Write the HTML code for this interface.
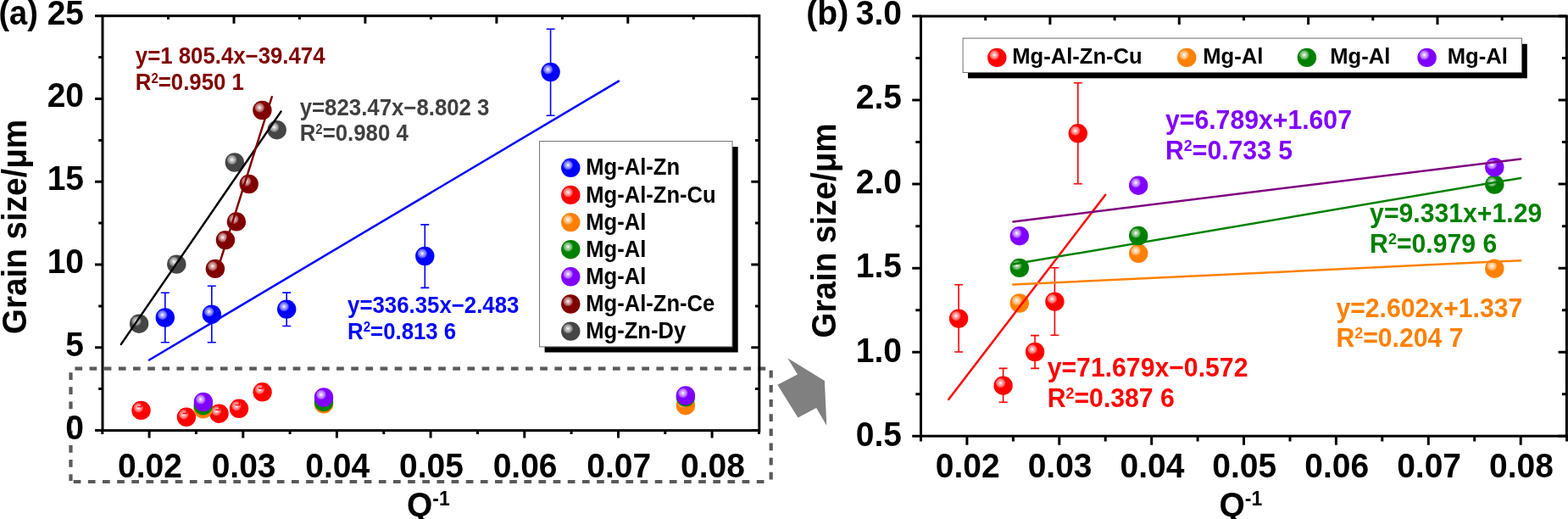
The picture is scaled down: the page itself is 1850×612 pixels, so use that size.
<!DOCTYPE html>
<html><head><meta charset="utf-8"><title>Grain size vs Q-1</title>
<style>html,body{margin:0;padding:0;background:#fff;width:1850px;height:612px;overflow:hidden}svg{display:block}</style>
</head><body>
<svg width="1850" height="612" viewBox="0 0 1850 612" font-family="'Liberation Sans', Arial, sans-serif" font-weight="bold">
<defs>
<radialGradient id="g_blue" cx="0.36" cy="0.36" fx="0.36" fy="0.36" r="0.27"><stop offset="0" stop-color="#ffffff"/><stop offset="0.1" stop-color="#ededff"/><stop offset="0.3" stop-color="#b8b8ff"/><stop offset="0.6" stop-color="#8585ff"/><stop offset="0.85" stop-color="#4c4cff"/><stop offset="1" stop-color="#0000ff"/></radialGradient>
<radialGradient id="g_red" cx="0.36" cy="0.36" fx="0.36" fy="0.36" r="0.27"><stop offset="0" stop-color="#ffffff"/><stop offset="0.1" stop-color="#ffeded"/><stop offset="0.3" stop-color="#ffb8b8"/><stop offset="0.6" stop-color="#ff8585"/><stop offset="0.85" stop-color="#ff4c4c"/><stop offset="1" stop-color="#ff0000"/></radialGradient>
<radialGradient id="g_orange" cx="0.36" cy="0.36" fx="0.36" fy="0.36" r="0.27"><stop offset="0" stop-color="#ffffff"/><stop offset="0.1" stop-color="#fff6ed"/><stop offset="0.3" stop-color="#ffdbb8"/><stop offset="0.6" stop-color="#ffc285"/><stop offset="0.85" stop-color="#ffa64c"/><stop offset="1" stop-color="#ff8000"/></radialGradient>
<radialGradient id="g_green" cx="0.36" cy="0.36" fx="0.36" fy="0.36" r="0.27"><stop offset="0" stop-color="#ffffff"/><stop offset="0.1" stop-color="#edf6ed"/><stop offset="0.3" stop-color="#b8dbb8"/><stop offset="0.6" stop-color="#85c285"/><stop offset="0.85" stop-color="#4ca64c"/><stop offset="1" stop-color="#008000"/></radialGradient>
<radialGradient id="g_purple" cx="0.36" cy="0.36" fx="0.36" fy="0.36" r="0.27"><stop offset="0" stop-color="#ffffff"/><stop offset="0.1" stop-color="#f6edff"/><stop offset="0.3" stop-color="#dbb8ff"/><stop offset="0.6" stop-color="#c285ff"/><stop offset="0.85" stop-color="#a64cff"/><stop offset="1" stop-color="#8000ff"/></radialGradient>
<radialGradient id="g_dred" cx="0.36" cy="0.36" fx="0.36" fy="0.36" r="0.27"><stop offset="0" stop-color="#ffffff"/><stop offset="0.1" stop-color="#f6eded"/><stop offset="0.3" stop-color="#dbb8b8"/><stop offset="0.6" stop-color="#c28585"/><stop offset="0.85" stop-color="#a64c4c"/><stop offset="1" stop-color="#800000"/></radialGradient>
<radialGradient id="g_gray" cx="0.36" cy="0.36" fx="0.36" fy="0.36" r="0.27"><stop offset="0" stop-color="#ffffff"/><stop offset="0.1" stop-color="#f2f2f2"/><stop offset="0.3" stop-color="#cbcbcb"/><stop offset="0.6" stop-color="#a6a6a6"/><stop offset="0.85" stop-color="#7d7d7d"/><stop offset="1" stop-color="#454545"/></radialGradient>
</defs>
<path d="M88.4 434.6H905" fill="none" stroke="#5a5a5a" stroke-width="4.2" stroke-dasharray="8.7 8.45"/>
<path d="M86.7 568H905" fill="none" stroke="#5a5a5a" stroke-width="4.2" stroke-dasharray="8.7 8.45"/>
<path d="M83.5 439.2V567" fill="none" stroke="#5a5a5a" stroke-width="4.2" stroke-dasharray="8.7 8.45"/>
<path d="M909.7 436.8V567" fill="none" stroke="#5a5a5a" stroke-width="4.2" stroke-dasharray="8.7 8.45"/>
<rect x="642.6" y="173.1" width="228.1" height="242.4" fill="#000"/>
<rect x="636.6" y="166.6" width="227.4" height="242.3" fill="#fff" stroke="#707070" stroke-width="1"/>
<circle cx="673.3" cy="197.8" r="11.2" fill="url(#g_blue)"/>
<text transform="translate(691.2 206.4) scale(1 1.07)" font-size="25.6" fill="#000" text-anchor="start" >Mg-Al-Zn</text>
<circle cx="673.3" cy="229.9" r="11.2" fill="url(#g_red)"/>
<text transform="translate(691.2 238.5) scale(1 1.07)" font-size="25.6" fill="#000" text-anchor="start" >Mg-Al-Zn-Cu</text>
<circle cx="673.3" cy="262.1" r="11.2" fill="url(#g_orange)"/>
<text transform="translate(691.2 270.7) scale(1 1.07)" font-size="25.6" fill="#000" text-anchor="start" >Mg-Al</text>
<circle cx="673.3" cy="294.2" r="11.2" fill="url(#g_green)"/>
<text transform="translate(691.2 302.8) scale(1 1.07)" font-size="25.6" fill="#000" text-anchor="start" >Mg-Al</text>
<circle cx="673.3" cy="326.3" r="11.2" fill="url(#g_purple)"/>
<text transform="translate(691.2 334.9) scale(1 1.07)" font-size="25.6" fill="#000" text-anchor="start" >Mg-Al</text>
<circle cx="673.3" cy="358.5" r="11.2" fill="url(#g_dred)"/>
<text transform="translate(691.2 367.1) scale(1 1.07)" font-size="25.6" fill="#000" text-anchor="start" >Mg-Al-Zn-Ce</text>
<circle cx="673.3" cy="390.6" r="11.2" fill="url(#g_gray)"/>
<text transform="translate(691.2 399.2) scale(1 1.07)" font-size="25.6" fill="#000" text-anchor="start" >Mg-Zn-Dy</text>
<path d="M194.8 345.2V403.7M189.8 345.2H199.8M189.8 403.7H199.8" stroke="#0000ff" stroke-width="1.6" fill="none"/>
<path d="M249.8 337.2V403.7M244.8 337.2H254.8M244.8 403.7H254.8" stroke="#0000ff" stroke-width="1.6" fill="none"/>
<path d="M338.2 345.1V384.5M333.2 345.1H343.2M333.2 384.5H343.2" stroke="#0000ff" stroke-width="1.6" fill="none"/>
<path d="M501.3 264.9V339.4M496.3 264.9H506.3M496.3 339.4H506.3" stroke="#0000ff" stroke-width="1.6" fill="none"/>
<path d="M649.6 34.2V136.2M644.6 34.2H654.6M644.6 136.2H654.6" stroke="#0000ff" stroke-width="1.6" fill="none"/>
<circle cx="194.8" cy="374.5" r="11.2" fill="url(#g_blue)"/>
<circle cx="249.8" cy="370.7" r="11.2" fill="url(#g_blue)"/>
<circle cx="338.2" cy="364.6" r="11.2" fill="url(#g_blue)"/>
<circle cx="501.3" cy="302.0" r="11.2" fill="url(#g_blue)"/>
<circle cx="649.6" cy="85.0" r="11.2" fill="url(#g_blue)"/>
<circle cx="164.1" cy="381.7" r="11.2" fill="url(#g_gray)"/>
<circle cx="208.3" cy="311.6" r="11.2" fill="url(#g_gray)"/>
<circle cx="276.8" cy="191.5" r="11.2" fill="url(#g_gray)"/>
<circle cx="326.7" cy="153.2" r="11.2" fill="url(#g_gray)"/>
<circle cx="253.9" cy="316.9" r="11.2" fill="url(#g_dred)"/>
<circle cx="265.9" cy="283.1" r="11.2" fill="url(#g_dred)"/>
<circle cx="278.9" cy="261.4" r="11.2" fill="url(#g_dred)"/>
<circle cx="293.7" cy="217.0" r="11.2" fill="url(#g_dred)"/>
<circle cx="309.4" cy="130.0" r="11.2" fill="url(#g_dred)"/>
<circle cx="166.5" cy="483.9" r="11.2" fill="url(#g_red)"/>
<circle cx="219.9" cy="491.8" r="11.2" fill="url(#g_red)"/>
<circle cx="258.5" cy="487.7" r="11.2" fill="url(#g_red)"/>
<circle cx="282.0" cy="481.8" r="11.2" fill="url(#g_red)"/>
<circle cx="309.6" cy="462.3" r="11.2" fill="url(#g_red)"/>
<path d="M161.9 479.6H167.0V475.4" stroke="#ff0000" stroke-width="1.3" fill="none"/>
<path d="M215.3 487.5H220.4V483.3" stroke="#ff0000" stroke-width="1.3" fill="none"/>
<path d="M253.9 483.4H259.0V479.2" stroke="#ff0000" stroke-width="1.3" fill="none"/>
<path d="M277.4 477.5H282.5V473.3" stroke="#ff0000" stroke-width="1.3" fill="none"/>
<path d="M305.0 458.0H310.1V453.8" stroke="#ff0000" stroke-width="1.3" fill="none"/>
<circle cx="239.7" cy="482.3" r="11.2" fill="url(#g_orange)"/>
<circle cx="382.0" cy="476.4" r="11.2" fill="url(#g_orange)"/>
<circle cx="808.9" cy="478.2" r="11.2" fill="url(#g_orange)"/>
<circle cx="239.7" cy="478.2" r="11.2" fill="url(#g_green)"/>
<circle cx="382.0" cy="474.1" r="11.2" fill="url(#g_green)"/>
<circle cx="808.9" cy="468.4" r="11.2" fill="url(#g_green)"/>
<circle cx="239.9" cy="474.0" r="11.2" fill="url(#g_purple)"/>
<circle cx="382.0" cy="468.5" r="11.2" fill="url(#g_purple)"/>
<circle cx="808.9" cy="466.5" r="11.2" fill="url(#g_purple)"/>
<line x1="176.0" y1="424.5" x2="730.0" y2="95.6" stroke="#0000ff" stroke-width="2.5" stroke-linecap="round"/>
<line x1="142.9" y1="405.9" x2="331.5" y2="131.6" stroke="#000000" stroke-width="2.5" stroke-linecap="round"/>
<line x1="255.0" y1="323.4" x2="320.8" y2="114.2" stroke="#800000" stroke-width="2.5" stroke-linecap="round"/>
<path d="M112.0 507.5H121.0M886.3 507.5H895.8M112.0 409.8H121.0M886.3 409.8H895.8M112.0 312.0H121.0M886.3 312.0H895.8M112.0 214.2H121.0M886.3 214.2H895.8M112.0 116.5H121.0M886.3 116.5H895.8M112.0 18.8H121.0M886.3 18.8H895.8M116.2 458.6H121.0M891.0 458.6H895.8M116.2 360.9H121.0M891.0 360.9H895.8M116.2 263.1H121.0M891.0 263.1H895.8M116.2 165.4H121.0M891.0 165.4H895.8M116.2 67.6H121.0M891.0 67.6H895.8M176.1 507.6V516.6M286.8 507.6V516.6M397.4 507.6V516.6M508.1 507.6V516.6M618.8 507.6V516.6M729.5 507.6V516.6M840.1 507.6V516.6M120.8 507.6V512.1M231.4 507.6V512.1M342.1 507.6V512.1M452.8 507.6V512.1M563.5 507.6V512.1M674.1 507.6V512.1M784.8 507.6V512.1M895.5 507.6V512.1M198.5 18.7V23.0M276.0 18.7V27.8M353.4 18.7V23.0M430.9 18.7V27.8M508.4 18.7V23.0M585.9 18.7V27.8M663.4 18.7V23.0M740.8 18.7V27.8M818.3 18.7V23.0" stroke="#000" stroke-width="3" fill="none"/>
<rect x="121.0" y="18.7" width="774.8" height="488.9" fill="none" stroke="#000" stroke-width="3"/>
<text transform="translate(99.0 517.8) scale(1 1.033)" font-size="39" fill="#000" text-anchor="end" >0</text>
<text transform="translate(99.0 419.7) scale(1 1.033)" font-size="39" fill="#000" text-anchor="end" >5</text>
<text transform="translate(99.0 321.8) scale(1 1.033)" font-size="39" fill="#000" text-anchor="end" >10</text>
<text transform="translate(99.0 223.8) scale(1 1.033)" font-size="39" fill="#000" text-anchor="end" >15</text>
<text transform="translate(99.0 125.8) scale(1 1.033)" font-size="39" fill="#000" text-anchor="end" >20</text>
<text transform="translate(99.0 28.6) scale(1 1.033)" font-size="39" fill="#000" text-anchor="end" >25</text>
<text transform="translate(176.9 563.0) scale(1 1.033)" font-size="39" fill="#000" text-anchor="middle" >0.02</text>
<text transform="translate(287.6 563.0) scale(1 1.033)" font-size="39" fill="#000" text-anchor="middle" >0.03</text>
<text transform="translate(398.2 563.0) scale(1 1.033)" font-size="39" fill="#000" text-anchor="middle" >0.04</text>
<text transform="translate(508.9 563.0) scale(1 1.033)" font-size="39" fill="#000" text-anchor="middle" >0.05</text>
<text transform="translate(619.6 563.0) scale(1 1.033)" font-size="39" fill="#000" text-anchor="middle" >0.06</text>
<text transform="translate(730.3 563.0) scale(1 1.033)" font-size="39" fill="#000" text-anchor="middle" >0.07</text>
<text transform="translate(840.9 563.0) scale(1 1.033)" font-size="39" fill="#000" text-anchor="middle" >0.08</text>
<text transform="translate(159.8 75.0) scale(1 1.04)" font-size="25.8" fill="#800000" text-anchor="start" >y=1 805.4x−39.474</text>
<text transform="translate(159.8 105.8) scale(1 1.04)" font-size="25.8" fill="#800000" text-anchor="start" >R<tspan font-size="15" dy="-7.8">2</tspan><tspan dy="7.8">=0.950 1</tspan></text>
<text transform="translate(353.7 135.8) scale(1 1.04)" font-size="25.8" fill="#404040" text-anchor="start" >y=823.47x−8.802 3</text>
<text transform="translate(353.7 166.4) scale(1 1.04)" font-size="25.8" fill="#404040" text-anchor="start" >R<tspan font-size="15" dy="-7.8">2</tspan><tspan dy="7.8">=0.980 4</tspan></text>
<text transform="translate(410.1 368.9) scale(1 1.04)" font-size="25.8" fill="#0000ff" text-anchor="start" >y=336.35x−2.483</text>
<text transform="translate(410.1 399.5) scale(1 1.04)" font-size="25.8" fill="#0000ff" text-anchor="start" >R<tspan font-size="15" dy="-7.8">2</tspan><tspan dy="7.8">=0.813 6</tspan></text>
<text transform="translate(-1.6 28.6) scale(0.951 1)" x="0" y="0" font-size="40">(a)</text>
<text transform="translate(30.8 267.4) rotate(-90) scale(1 1.075)" x="0" y="0" font-size="38.6" text-anchor="middle">Grain size/μm</text>
<text transform="translate(480.0 609.0) scale(1 1.04)" font-size="39">Q<tspan font-size="23" dy="-12.6">-1</tspan></text>
<path d="M929.3 422.2L972.9 448.9L975.3 501.8L963.1 481.0L941.5 492.4L917.3 453.8L941.0 441.5Z" fill="#808080"/>
<rect x="1142.0" y="51.8" width="659.8" height="40.5" fill="#000"/>
<rect x="1136.1" y="45.1" width="659.4" height="40.4" fill="#fff" stroke="#707070" stroke-width="1"/>
<circle cx="1176.3" cy="67.9" r="11.2" fill="url(#g_red)"/>
<text transform="translate(1194.2 75.2) scale(1 1.04)" font-size="25.6" fill="#000" text-anchor="start" >Mg-Al-Zn-Cu</text>
<circle cx="1400.2" cy="67.9" r="11.2" fill="url(#g_orange)"/>
<text transform="translate(1419.3 75.2) scale(1 1.04)" font-size="25.6" fill="#000" text-anchor="start" >Mg-Al</text>
<circle cx="1541.9" cy="67.9" r="11.2" fill="url(#g_green)"/>
<text transform="translate(1569.3 75.2) scale(1 1.04)" font-size="25.6" fill="#000" text-anchor="start" >Mg-Al</text>
<circle cx="1683.6" cy="67.9" r="11.2" fill="url(#g_purple)"/>
<text transform="translate(1707.7 75.2) scale(1 1.04)" font-size="25.6" fill="#000" text-anchor="start" >Mg-Al</text>
<path d="M1131.1 335.8V415.0M1126.1 335.8H1136.1M1126.1 415.0H1136.1" stroke="#ff0000" stroke-width="1.6" fill="none"/>
<path d="M1183.6 434.4V474.2M1178.6 434.4H1188.6M1178.6 474.2H1188.6" stroke="#ff0000" stroke-width="1.6" fill="none"/>
<path d="M1221.1 395.6V434.4M1216.1 395.6H1226.1M1216.1 434.4H1226.1" stroke="#ff0000" stroke-width="1.6" fill="none"/>
<path d="M1244.4 315.7V395.3M1239.4 315.7H1249.4M1239.4 395.3H1249.4" stroke="#ff0000" stroke-width="1.6" fill="none"/>
<path d="M1271.8 97.8V216.7M1266.8 97.8H1276.8M1266.8 216.7H1276.8" stroke="#ff0000" stroke-width="1.6" fill="none"/>
<circle cx="1131.1" cy="375.6" r="11.2" fill="url(#g_red)"/>
<circle cx="1183.6" cy="454.7" r="11.2" fill="url(#g_red)"/>
<circle cx="1221.1" cy="415.0" r="11.2" fill="url(#g_red)"/>
<circle cx="1244.4" cy="355.6" r="11.2" fill="url(#g_red)"/>
<circle cx="1271.8" cy="157.3" r="11.2" fill="url(#g_red)"/>
<circle cx="1202.8" cy="357.5" r="11.2" fill="url(#g_orange)"/>
<circle cx="1343.2" cy="298.8" r="11.2" fill="url(#g_orange)"/>
<circle cx="1763.3" cy="316.7" r="11.2" fill="url(#g_orange)"/>
<circle cx="1202.8" cy="315.9" r="11.2" fill="url(#g_green)"/>
<circle cx="1343.2" cy="278.0" r="11.2" fill="url(#g_green)"/>
<circle cx="1763.3" cy="217.6" r="11.2" fill="url(#g_green)"/>
<circle cx="1202.8" cy="278.2" r="11.2" fill="url(#g_purple)"/>
<circle cx="1343.2" cy="218.7" r="11.2" fill="url(#g_purple)"/>
<circle cx="1763.3" cy="197.2" r="11.2" fill="url(#g_purple)"/>
<line x1="1119.2" y1="471.0" x2="1304.2" y2="229.7" stroke="#ff0000" stroke-width="2.5" stroke-linecap="round"/>
<line x1="1195.4" y1="335.6" x2="1794.2" y2="307.2" stroke="#ff8000" stroke-width="2.5" stroke-linecap="round"/>
<line x1="1195.4" y1="311.6" x2="1794.2" y2="209.9" stroke="#008000" stroke-width="2.5" stroke-linecap="round"/>
<line x1="1195.4" y1="261.4" x2="1794.2" y2="187.4" stroke="#800080" stroke-width="2.5" stroke-linecap="round"/>
<path d="M1076.2 514.2H1086.5M1838.6 514.2H1848.4M1076.2 415.2H1086.5M1838.6 415.2H1848.4M1076.2 316.2H1086.5M1838.6 316.2H1848.4M1076.2 217.1H1086.5M1838.6 217.1H1848.4M1076.2 118.1H1086.5M1838.6 118.1H1848.4M1076.2 19.1H1086.5M1838.6 19.1H1848.4M1080.3 464.7H1086.5M1842.9 464.7H1848.4M1080.3 365.7H1086.5M1842.9 365.7H1848.4M1080.3 266.7H1086.5M1842.9 266.7H1848.4M1080.3 167.6H1086.5M1842.9 167.6H1848.4M1080.3 68.6H1086.5M1842.9 68.6H1848.4M1140.9 514.2V524.7M1249.8 514.2V524.7M1358.7 514.2V524.7M1467.5 514.2V524.7M1576.4 514.2V524.7M1685.3 514.2V524.7M1794.2 514.2V524.7M1086.5 514.2V520.4M1195.4 514.2V520.4M1304.2 514.2V520.4M1413.1 514.2V520.4M1522.0 514.2V520.4M1630.8 514.2V520.4M1739.7 514.2V520.4M1848.6 514.2V520.4M1162.7 19.1V24.3M1238.9 19.1V29.0M1315.1 19.1V24.3M1391.3 19.1V29.0M1467.5 19.1V24.3M1543.6 19.1V29.0M1619.8 19.1V24.3M1696.0 19.1V29.0M1772.2 19.1V24.3" stroke="#000" stroke-width="3" fill="none"/>
<rect x="1086.5" y="19.1" width="761.9" height="495.1" fill="none" stroke="#000" stroke-width="3"/>
<text transform="translate(1064.0 525.9) scale(1 1.033)" font-size="39" fill="#000" text-anchor="end" >0.5</text>
<text transform="translate(1064.0 426.5) scale(1 1.033)" font-size="39" fill="#000" text-anchor="end" >1.0</text>
<text transform="translate(1064.0 326.8) scale(1 1.033)" font-size="39" fill="#000" text-anchor="end" >1.5</text>
<text transform="translate(1064.0 227.7) scale(1 1.033)" font-size="39" fill="#000" text-anchor="end" >2.0</text>
<text transform="translate(1064.0 127.9) scale(1 1.033)" font-size="39" fill="#000" text-anchor="end" >2.5</text>
<text transform="translate(1064.0 28.8) scale(1 1.033)" font-size="39" fill="#000" text-anchor="end" >3.0</text>
<text transform="translate(1141.7 563.3) scale(1 1.033)" font-size="39" fill="#000" text-anchor="middle" >0.02</text>
<text transform="translate(1250.6 563.3) scale(1 1.033)" font-size="39" fill="#000" text-anchor="middle" >0.03</text>
<text transform="translate(1359.5 563.3) scale(1 1.033)" font-size="39" fill="#000" text-anchor="middle" >0.04</text>
<text transform="translate(1468.3 563.3) scale(1 1.033)" font-size="39" fill="#000" text-anchor="middle" >0.05</text>
<text transform="translate(1577.2 563.3) scale(1 1.033)" font-size="39" fill="#000" text-anchor="middle" >0.06</text>
<text transform="translate(1686.1 563.3) scale(1 1.033)" font-size="39" fill="#000" text-anchor="middle" >0.07</text>
<text transform="translate(1795.0 563.3) scale(1 1.033)" font-size="39" fill="#000" text-anchor="middle" >0.08</text>
<text transform="translate(1375.0 152.4) scale(1 1.045)" font-size="30.2" fill="#8000ff" text-anchor="start" >y=6.789x+1.607</text>
<text transform="translate(1375.0 187.6) scale(1 1.045)" font-size="30.2" fill="#8000ff" text-anchor="start" >R<tspan font-size="17.9" dy="-9.6">2</tspan><tspan dy="9.6">=0.733 5</tspan></text>
<text transform="translate(1616.1 262.2) scale(1 1.045)" font-size="30.2" fill="#008000" text-anchor="start" >y=9.331x+1.29</text>
<text transform="translate(1616.1 297.6) scale(1 1.045)" font-size="30.2" fill="#008000" text-anchor="start" >R<tspan font-size="17.9" dy="-9.6">2</tspan><tspan dy="9.6">=0.979 6</tspan></text>
<text transform="translate(1576.4 373.5) scale(1 1.045)" font-size="30.2" fill="#ff8000" text-anchor="start" >y=2.602x+1.337</text>
<text transform="translate(1576.4 409.3) scale(1 1.045)" font-size="30.2" fill="#ff8000" text-anchor="start" >R<tspan font-size="17.9" dy="-9.6">2</tspan><tspan dy="9.6">=0.204 7</tspan></text>
<text transform="translate(1235.7 443.7) scale(1 1.045)" font-size="30.2" fill="#ff0000" text-anchor="start" >y=71.679x−0.572</text>
<text transform="translate(1235.7 479.6) scale(1 1.045)" font-size="30.2" fill="#ff0000" text-anchor="start" >R<tspan font-size="17.9" dy="-9.6">2</tspan><tspan dy="9.6">=0.387 6</tspan></text>
<text transform="translate(951.2 28.6) scale(0.981 1)" x="0" y="0" font-size="40">(b)</text>
<text transform="translate(985.8 272.0) rotate(-90) scale(1 1.075)" x="0" y="0" font-size="38.6" text-anchor="middle">Grain size/μm</text>
<text transform="translate(1438.5 609.0) scale(1 1.04)" font-size="39">Q<tspan font-size="23" dy="-12.6">-1</tspan></text>
</svg>
</body></html>
